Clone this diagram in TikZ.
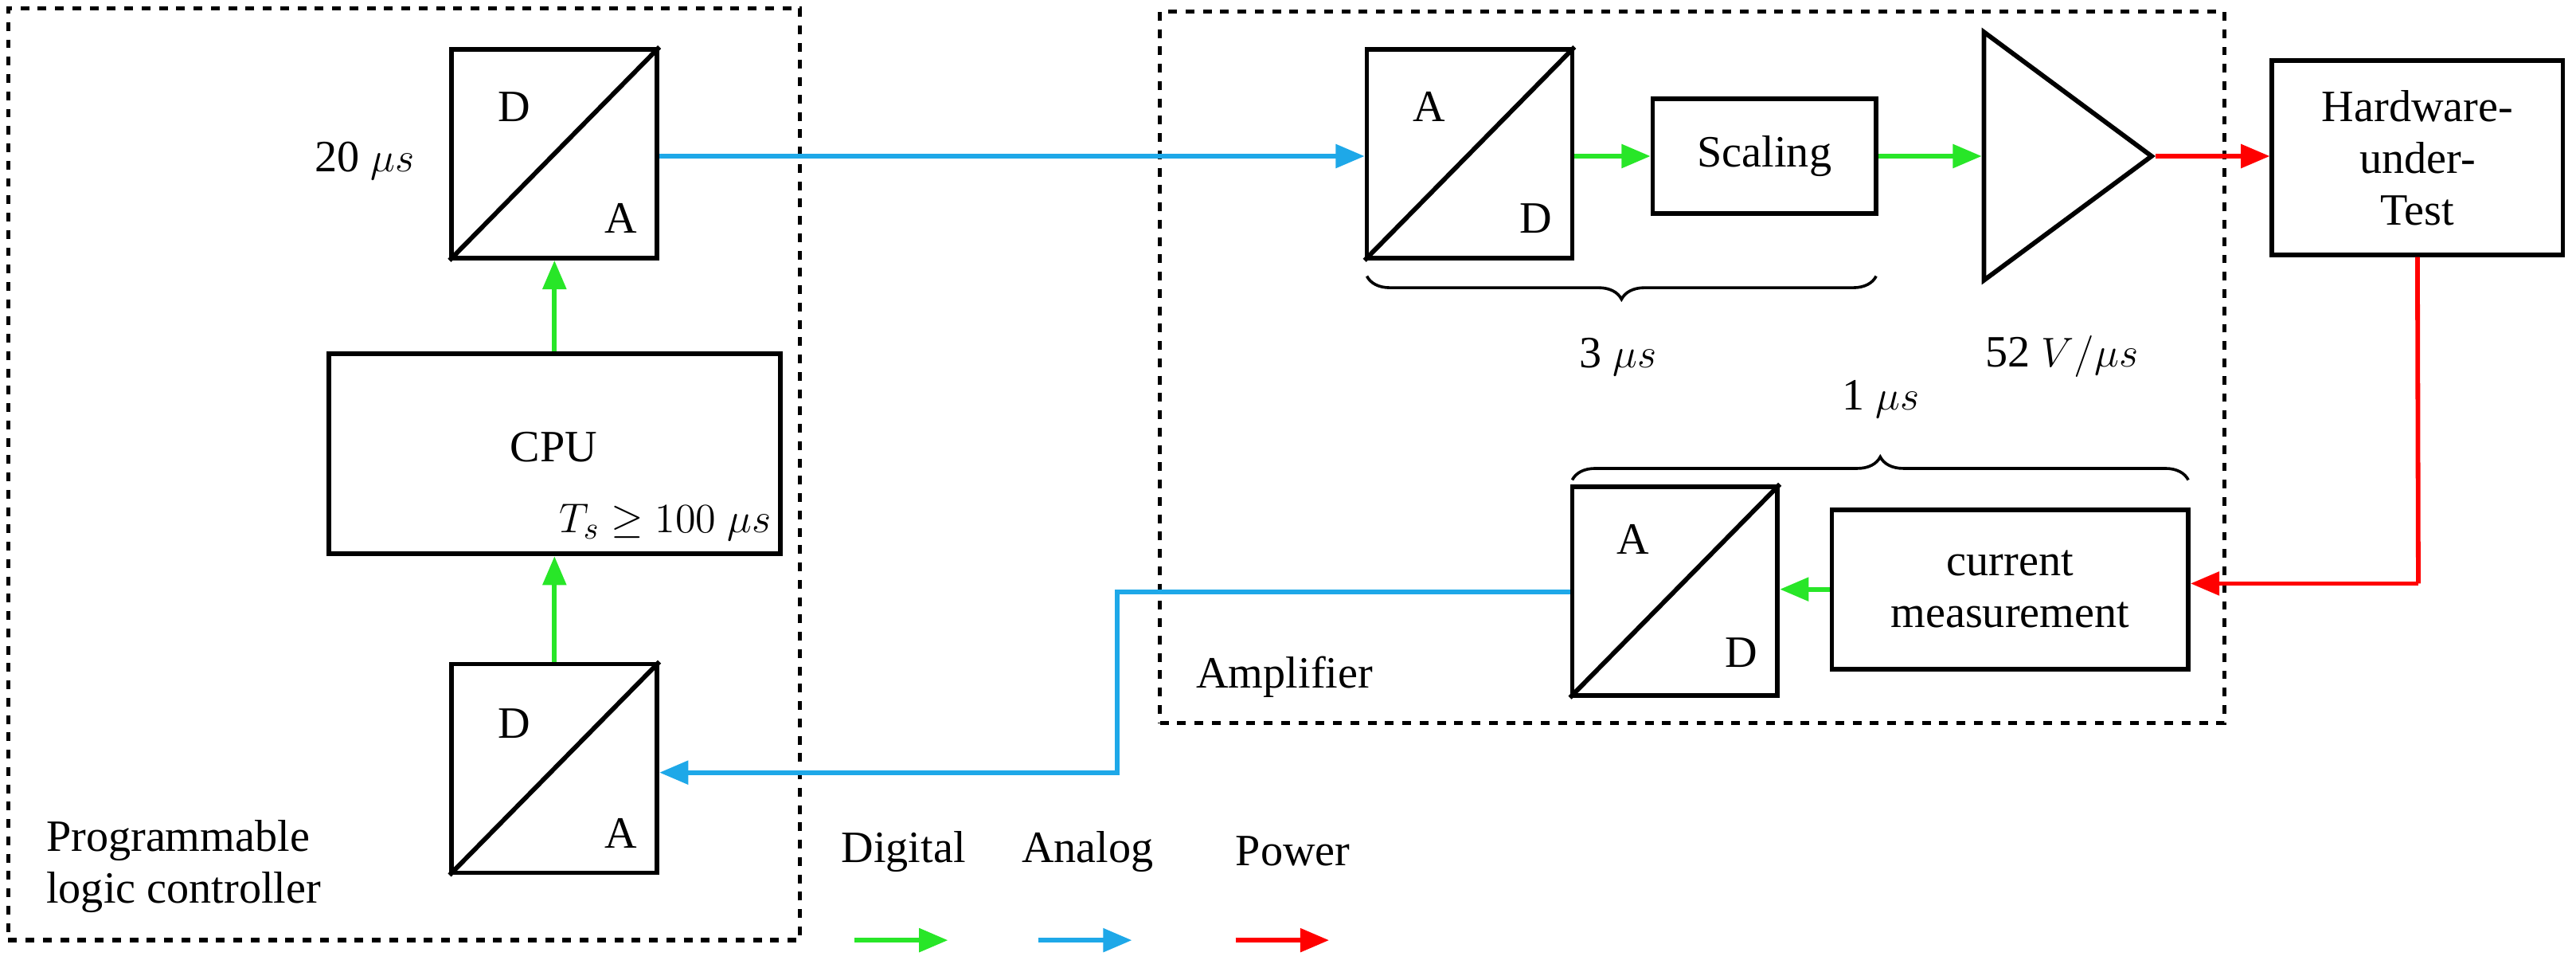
\documentclass[tikz,border=0pt]{standalone}
\usepackage{fontspec}
\setmainfont{Liberation Serif}
\usetikzlibrary{arrows.meta,decorations.pathreplacing,shapes.geometric}
\definecolor{dg}{RGB}{40,230,40}
\definecolor{an}{RGB}{30,168,232}
\definecolor{pw}{RGB}{255,0,0}
\begin{document}
\begin{tikzpicture}[x=0.02cm,y=-0.02cm,font=\fontsize{15.5}{18}\selectfont,
  blk/.style={draw,line width=1.6pt,inner sep=0pt},
  grp/.style={draw,dashed,line width=1.4pt},
  sig/.style={line width=1.6pt,-{Triangle[length=10pt,width=8pt]}},
  dig/.style={sig,dg}, ana/.style={sig,an}, pow/.style={sig,pw},
  conv/.style={blk,minimum width=2.5cm,minimum height=2.54cm},
  br/.style={draw,line width=1pt,decorate,decoration={brace,amplitude=8pt}}]
\useasboundingbox (0,0) rectangle (1568,586);
% groups
\node[grp,minimum width=9.64cm,minimum height=11.34cm] (plc) at (246,288.5) {};
\node[grp,minimum width=12.96cm,minimum height=8.66cm] (amp) at (1030,223.5) {};
\node[anchor=west,align=left] (plct) at (22,527) {Programmable\\logic controller};
\node[anchor=west] (ampt) at (722,412) {Amplifier};
% PLC
\node[conv] (da1) at (337.5,93.5) {};
\draw[line width=1.6pt] (da1.south west) -- (da1.north east);
\node (da1d) at (313,65) {D}; \node (da1a) at (378,133) {A};
\node (t20) at (222,98) {20 $\mu s$};
\node[blk,minimum width=5.5cm,minimum height=2.44cm] (cpu) at (337.5,276) {};
\node (cput) at (337,272) {CPU};
\node (ts) at (405,318) {$T_s \geq 100\ \mu s$};
\node[conv] (da2) at (337.5,467.5) {};
\draw[line width=1.6pt] (da2.south west) -- (da2.north east);
\node (da2d) at (313,440) {D}; \node (da2a) at (378,507) {A};
\draw[dig] (da2.north) -- (cpu.south);
\draw[dig] (cpu.north) -- (da1.south);
% amplifier
\node[conv] (ad1) at (894.5,93.5) {};
\draw[line width=1.6pt] (ad1.south west) -- (ad1.north east);
\node (ad1a) at (870,65) {A}; \node (ad1d) at (935,133) {D};
\node[blk,minimum width=2.72cm,minimum height=1.4cm] (sc) at (1074,95) {Scaling};
\node[blk,isosceles triangle,isosceles triangle apex angle=73,minimum height=2.04cm,anchor=apex] (tri) at (1312,95) {};
\node[blk,align=center,minimum width=3.54cm,minimum height=2.36cm] (hut) at (1471.5,96) {Hardware-\\under-\\Test};
\draw[ana] (da1.east |- 0,95) -- (ad1.west |- 0,95);
\draw[dig] (ad1.east |- 0,95) -- (sc.west);
\draw[dig] (sc.east) -- (tri.west |- 0,95);
\draw[pow] (tri.apex) -- (hut.west |- 0,95);
\coordinate (b1r) at (1142,168); \coordinate (b1l) at (832,168);
\draw[br] (b1r) -- (b1l);
\node (t3) at (985,217) {3 $\mu s$};
\node (t52) at (1255,217) {52 $V/\mu s$};
\coordinate (b2l) at (957,292); \coordinate (b2r) at (1332,292);
\draw[br] (b2l) -- (b2r);
\node (t1) at (1145,243) {1 $\mu s$};
\node[conv] (ad2) at (1019.5,359.5) {};
\draw[line width=1.6pt] (ad2.south west) -- (ad2.north east);
\node (ad2a) at (994,328) {A}; \node (ad2d) at (1060,397) {D};
\node[blk,align=center,minimum width=4.34cm,minimum height=1.94cm] (cm) at (1223.5,358.5) {current\\measurement};
\coordinate (hutc) at (1472,355);
\draw[pow,-] (hut.south) -- (hutc);
\draw[pow] (hutc) -- (cm.east |- hutc);
\draw[dig] (cm.west) -- (ad2.east |- cm.west);
\coordinate (k1) at (680,360); \coordinate (k2) at (680,470);
\draw[ana] (ad2.west |- k1) -- (k1) -- (k2) -- (da2.east |- k2);
% legend
\node (ld) at (550,518) {Digital};
\node (la) at (662,518) {Analog};
\node (lp) at (787,518) {Power};
\coordinate (g1) at (520,572); \coordinate (g2) at (577,572);
\coordinate (a1) at (632,572); \coordinate (a2) at (689,572);
\coordinate (p1) at (752,572); \coordinate (p2) at (809,572);
\draw[dig] (g1) -- (g2); \draw[ana] (a1) -- (a2); \draw[pow] (p1) -- (p2);
\end{tikzpicture}
\end{document}
